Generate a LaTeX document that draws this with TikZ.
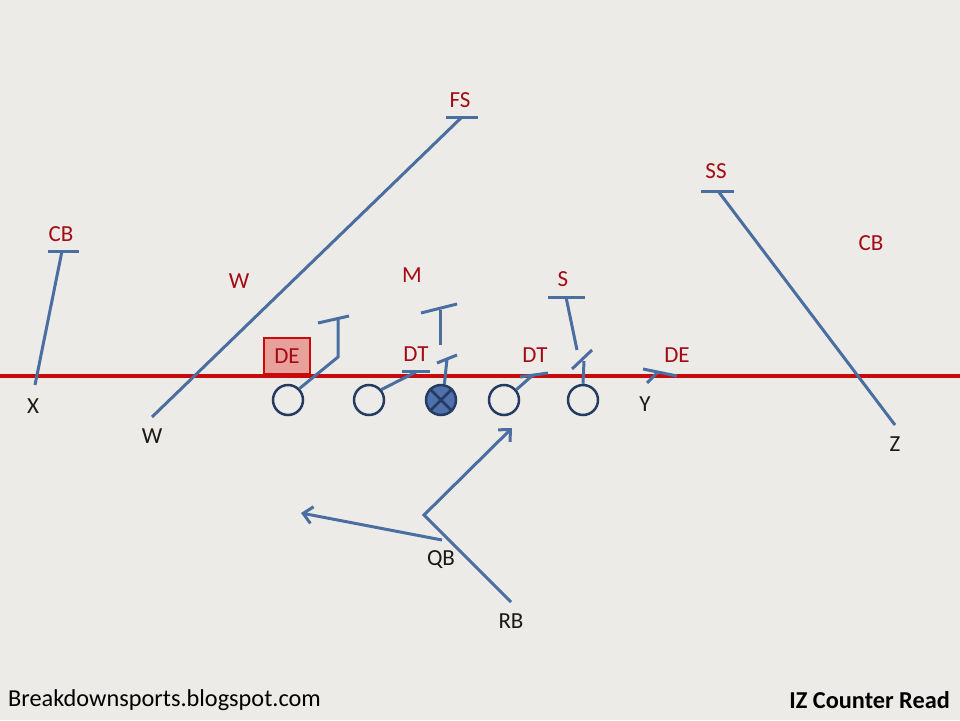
\documentclass[tikz,border=0pt]{standalone}
\usepackage{fontspec}
\setmainfont{Carlito}
\usetikzlibrary{arrows.meta}
\definecolor{bg}{RGB}{237,235,232}
\definecolor{losred}{RGB}{200,10,10}
\definecolor{defred}{RGB}{165,10,20}
\definecolor{routeblue}{RGB}{74,110,160}
\definecolor{navy}{RGB}{36,60,96}
\definecolor{cfill}{RGB}{79,112,172}
\definecolor{boxfill}{RGB}{232,160,154}
\definecolor{offblack}{RGB}{25,25,25}
\tikzset{
  route/.style={draw=routeblue, line width=3pt},
  lineman/.style={circle, draw=navy, line width=2.5pt, minimum size=30pt, inner sep=0pt},
  deflabel/.style={text=defred, font=\fontsize{23}{27}\selectfont, inner sep=0pt},
  offlabel/.style={text=offblack, font=\fontsize{23}{27}\selectfont, inner sep=0pt},
  arrowroute/.style={route, -{Straight Barb[length=9pt,width=17pt,line width=3pt]}}
}
\begin{document}
\begin{tikzpicture}[x=1pt,y=-1pt]
\useasboundingbox (0,0) rectangle (960,720);
\fill[bg] (0,0) rectangle (960,720);
% line of scrimmage
\coordinate (losL) at (0,376);
\coordinate (losR) at (960,376);
\draw[losred, line width=3.5pt] (losL) -- (losR);
% offensive line
\node[lineman] (lt) at (288,400) {};
\node[lineman] (lg) at (369,400) {};
\node[lineman, fill=cfill] (ctr) at (441,400) {};
\node[lineman] (rg) at (504,400) {};
\node[lineman] (rt) at (583,400) {};
\draw[navy, line width=2.5pt] (ctr.45) -- (ctr.225) (ctr.135) -- (ctr.315);
% DE box
\node[draw=losred, fill=boxfill, line width=2.5pt, minimum width=46pt, minimum height=36pt, inner sep=0pt, text=defred, font=\fontsize{23}{27}\selectfont] (debox) at (287,356) {DE};
% defender labels
\node[deflabel] (cbl) at (61,234) {CB};
\node[deflabel] (fs) at (460,100) {FS};
\node[deflabel] (wd) at (239,281) {W};
\node[deflabel] (m) at (412,275) {M};
\node[deflabel] (dtl) at (416,354) {DT};
\node[deflabel] (dtr) at (535,355) {DT};
\node[deflabel] (s) at (563,279) {S};
\node[deflabel] (der) at (677,355) {DE};
\node[deflabel] (ss) at (716,171) {SS};
\node[deflabel] (cbr) at (871,243) {CB};
% offensive labels
\node[offlabel] (x) at (33,406) {X};
\node[offlabel] (w) at (152,436) {W};
\node[offlabel] (y) at (645,404) {Y};
\node[offlabel] (z) at (895,444) {Z};
\node[offlabel] (qb) at (441,560) {QB};
\node[offlabel] (rb) at (511,621) {RB};
% X route
\coordinate (xs) at (35,385); \coordinate (xe) at (62,251);
\coordinate (xt1) at (48,251); \coordinate (xt2) at (79,251);
\draw[route] (xs) -- (xe); \draw[route] (xt1) -- (xt2);
% W route
\coordinate (ws) at (152,417); \coordinate (we) at (462,117);
\coordinate (wt1) at (446,117); \coordinate (wt2) at (478,117);
\draw[route] (ws) -- (we); \draw[route] (wt1) -- (wt2);
% Z route
\coordinate (zs) at (895,425); \coordinate (ze) at (718,191);
\coordinate (zt1) at (701,191); \coordinate (zt2) at (734,191);
\draw[route] (zs) -- (ze); \draw[route] (zt1) -- (zt2);
% LT
\coordinate (lta) at (338,357); \coordinate (ltb) at (338,319);
\coordinate (ltt1) at (318,323); \coordinate (ltt2) at (349,316);
\draw[route] (lt.45) -- (lta) -- (ltb); \draw[route] (ltt1) -- (ltt2);
% LG
\coordinate (lga) at (416,372);
\coordinate (lgt1) at (402,371); \coordinate (lgt2) at (430,371);
\draw[route] (lg.40) -- (lga); \draw[route] (lgt1) -- (lgt2);
% C
\coordinate (ca) at (447,359);
\coordinate (ct1) at (437,363); \coordinate (ct2) at (457,355);
\draw[route] (ctr.78) -- (ca); \draw[route] (ct1) -- (ct2);
\coordinate (cm1) at (440,345); \coordinate (cm2) at (440,310);
\coordinate (cmt1) at (421,313); \coordinate (cmt2) at (457,304);
\draw[route] (cm1) -- (cm2); \draw[route] (cmt1) -- (cmt2);
% RG
\coordinate (rga) at (533,375);
\coordinate (rgt1) at (520,377); \coordinate (rgt2) at (548,373);
\draw[route] (rg.40) -- (rga); \draw[route] (rgt1) -- (rgt2);
% RT
\coordinate (rta) at (584,361);
\coordinate (rtt1) at (572,369); \coordinate (rtt2) at (592,350);
\draw[route] (rt.90) -- (rta); \draw[route] (rtt1) -- (rtt2);
\coordinate (rs1) at (577,350); \coordinate (rs2) at (566,297);
\coordinate (rst1) at (548,297); \coordinate (rst2) at (585,297);
\draw[route] (rs1) -- (rs2); \draw[route] (rst1) -- (rst2);
% Y
\coordinate (ys) at (647,383); \coordinate (ya) at (657,373);
\coordinate (yt1) at (643,369); \coordinate (yt2) at (677,376);
\draw[route] (ys) -- (ya); \draw[route] (yt1) -- (yt2);
% backfield
\coordinate (rbs) at (511,602); \coordinate (mesh) at (424,515);
\coordinate (rbe) at (512,428);
\draw[arrowroute] (rbs) -- (mesh) -- (rbe);
\coordinate (qbs) at (442,540); \coordinate (qbe) at (301,513);
\draw[arrowroute] (qbs) -- (qbe);
% footer
\node[anchor=west, text=black, font=\fontsize{24.3}{28}\selectfont, inner sep=0pt] (site) at (8,700) {Breakdownsports.blogspot.com};
\node[anchor=east, text=black, font=\fontsize{24.3}{28}\selectfont\bfseries, inner sep=0pt] (title) at (950,700) {IZ Counter Read};
\end{tikzpicture}
\end{document}
